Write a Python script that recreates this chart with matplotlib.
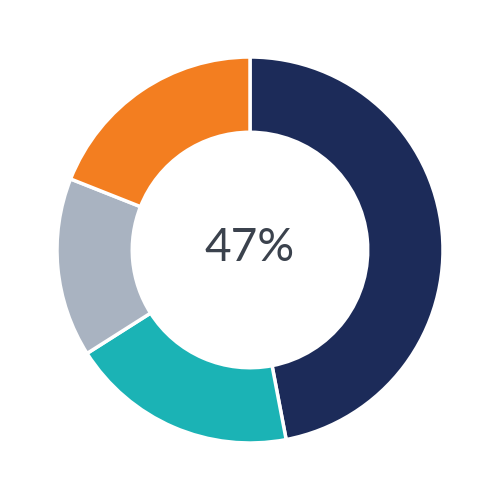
import matplotlib
matplotlib.use("Agg")
import matplotlib.pyplot as plt

# segment shares, clockwise from 12 o'clock
labels = ["Navy", "Teal", "Gray", "Orange"]
shares = [47, 19, 15, 19]
colors = ["#1c2b59", "#1bb3b5", "#a9b3c1", "#f37e20"]
center_label = "47%"

fig = plt.figure(figsize=(5, 5), dpi=100)
ax = fig.add_axes([0, 0, 1, 1])

ax.pie(shares, colors=colors, startangle=90, counterclock=False, radius=1.0,
       wedgeprops=dict(width=0.39, edgecolor="white", linewidth=2.5))
ax.text(0, 0.01, center_label, ha="center", va="center", fontsize=33,
        family=["Lato", "DejaVu Sans"], color="#3b424d")

lim = 250 / 193
ax.set_xlim(-lim, lim)
ax.set_ylim(-lim, lim)
ax.set_aspect("equal")
ax.axis("off")

fig.savefig("out.png", dpi=100, facecolor="white")
